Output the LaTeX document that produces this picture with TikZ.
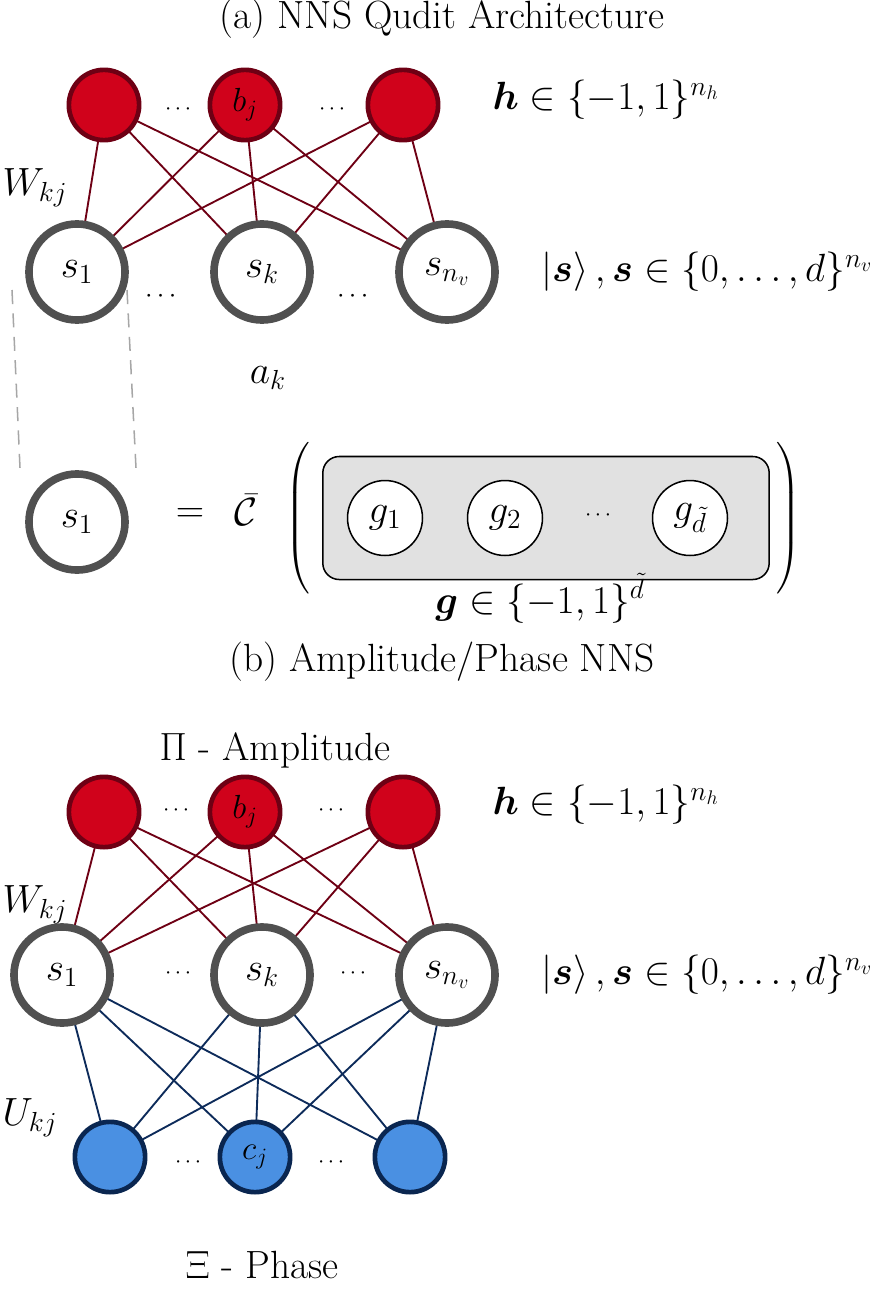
\RequirePackage{fix-cm}
\documentclass[tikz,border=0pt]{standalone}
\usepackage{amsmath,amssymb,bm}
\begin{document}
\begin{tikzpicture}[x=0.03cm,y=-0.03cm,
 t/.style={font=\fontsize{24}{28}\selectfont,scale=1.4},
 hid/.style={circle,inner sep=0pt,fill={rgb,255:red,208;green,2;blue,27},draw={rgb,255:red,110;green,0;blue,20},line width=4pt,minimum size=60pt},
 vis/.style={circle,inner sep=0pt,fill=white,draw={rgb,255:red,80;green,80;blue,80},line width=6.5pt,minimum size=82pt},
 gn/.style={circle,inner sep=0pt,fill=white,draw=black,line width=1.3pt,minimum size=64pt},
 phs/.style={circle,inner sep=0pt,fill={rgb,255:red,74;green,144;blue,226},draw={rgb,255:red,10;green,38;blue,80},line width=4pt,minimum size=60pt},
 redE/.style={draw={rgb,255:red,110;green,0;blue,20},line width=1.6pt},
 bluE/.style={draw={rgb,255:red,13;green,43;blue,90},line width=1.6pt},
 dots/.style={font=\fontsize{24}{28}\selectfont,scale=0.8}]
\useasboundingbox (0,0) rectangle (883,1289);
% (a)
\node[t] (ta) at (442,19) {(a) NNS Qudit Architecture};
\coordinate (a1) at (104,105);\coordinate (a2) at (245,105);\coordinate (a3) at (403,105);
\coordinate (b1) at (77,272);\coordinate (b2) at (262,272);\coordinate (b3) at (447,272);
\foreach \a in {a1,a2,a3}{\foreach \b in {b1,b2,b3}{\draw[redE] (\a) -- (\b);}}
\node[hid] (h1) at (a1) {};\node[hid] (h2) at (a2) {};\node[hid] (h3) at (a3) {};
\node[t,scale=0.85] (lbj) at (a2) {$b_j$};
\node[vis] (s1) at (b1) {};\node[vis] (sk) at (b2) {};\node[vis] (sn) at (b3) {};
\node[t] (l1) at (b1) {$s_1$};\node[t] (l2) at (b2) {$s_k$};\node[t] (l3) at (b3) {$s_{n_v}$};
\node[dots] (d1) at (180,110) {$\cdots$};
\node[dots] (d2) at (334,110) {$\cdots$};
\node[dots,scale=1.2] (d3) at (163,296) {$\cdots$};
\node[dots,scale=1.2] (d4) at (355,296) {$\cdots$};
\node[t] (hl) at (606,100) {$\bm h\in\{-1,1\}^{n_h}$};
\node[t] (sl) at (707,272) {$\left|\bm s\right\rangle,\bm s\in\{0,\dots,d\}^{n_v}$};
\node[t] (w1) at (35,188) {$W_{kj}$};
\node[t] (ak) at (268,378) {$a_k$};
\node[vis] (s1b) at (77,522) {};
\node[t] (l1b) at (77,522) {$s_1$};
\coordinate (c1) at (12,290); \coordinate (c2) at (20,468);
\coordinate (c3) at (127,290); \coordinate (c4) at (136,468);
\draw[gray!70,dash pattern=on 12pt off 8pt,line width=1.3pt] (c1) -- (c2) (c3) -- (c4);
\node[t] (eq) at (190,515) {$=$};
\node[t] (cb) at (246,510) {$\bar{\mathcal C}$};
\node[font=\fontsize{24}{28}\selectfont] (lp) at (299,518) {$\left(\rule[-58pt]{0pt}{116pt}\right.$};
\node[font=\fontsize{24}{28}\selectfont] (rp) at (788,518) {$\left.\rule[-58pt]{0pt}{116pt}\right)$};
\node[draw=black,line width=1.3pt,fill={rgb,255:red,225;green,225;blue,225},rounded corners=14pt,minimum width=381pt,minimum height=105pt] (box) at (546,518) {};
\node[gn] (g1) at (385,518) {};\node[gn] (g2) at (505,518) {};\node[gn] (g3) at (690,518) {};
\node[t] (lg1) at (g1) {$g_1$};\node[t] (lg2) at (g2) {$g_2$};\node[t] (lg3) at (g3) {$g_{\tilde d}$};
\node[dots] (d5) at (600,515) {$\cdots$};
\node[t] (gl) at (540,598) {$\bm g\in\{-1,1\}^{\tilde d}$};
% (b)
\node[t] (tb) at (442,662) {(b) Amplitude/Phase NNS};
\node[t] (pa) at (275,750) {$\Pi$ - Amplitude};
\coordinate (p1) at (104,812);\coordinate (p2) at (245,812);\coordinate (p3) at (403,812);
\coordinate (v1) at (62,975);\coordinate (v2) at (262,975);\coordinate (v3) at (447,975);
\coordinate (q1) at (110,1157);\coordinate (q2) at (255,1157);\coordinate (q3) at (410,1157);
\foreach \a in {p1,p2,p3}{\foreach \b in {v1,v2,v3}{\draw[redE] (\a) -- (\b);}}
\foreach \a in {q1,q2,q3}{\foreach \b in {v1,v2,v3}{\draw[bluE] (\a) -- (\b);}}
\node[hid] (hb1) at (p1) {};\node[hid] (hb2) at (p2) {};\node[hid] (hb3) at (p3) {};
\node[t,scale=0.85] (lbj2) at (p2) {$b_j$};
\node[vis] (vb1) at (v1) {};\node[vis] (vb2) at (v2) {};\node[vis] (vb3) at (v3) {};
\node[t] (m1) at (v1) {$s_1$};\node[t] (m2) at (v2) {$s_k$};\node[t] (m3) at (v3) {$s_{n_v}$};
\node[phs] (cb1) at (q1) {};\node[phs] (cb2) at (q2) {};\node[phs] (cb3) at (q3) {};
\node[t,scale=0.85] (lcj) at (q2) {$c_j$};
\node[dots] (e1) at (178,810) {$\cdots$};
\node[dots] (e2) at (333,810) {$\cdots$};
\node[dots] (e3) at (180,973) {$\cdots$};
\node[dots] (e4) at (355,973) {$\cdots$};
\node[dots] (e5) at (190,1162) {$\cdots$};
\node[dots] (e6) at (333,1162) {$\cdots$};
\node[t] (hl2) at (606,805) {$\bm h\in\{-1,1\}^{n_h}$};
\node[t] (sl2) at (707,975) {$\left|\bm s\right\rangle,\bm s\in\{0,\dots,d\}^{n_v}$};
\node[t] (w2) at (35,905) {$W_{kj}$};
\node[t] (u2) at (30,1118) {$U_{kj}$};
\node[t] (xp) at (262,1265) {$\Xi$ - Phase};
\end{tikzpicture}
\end{document}
